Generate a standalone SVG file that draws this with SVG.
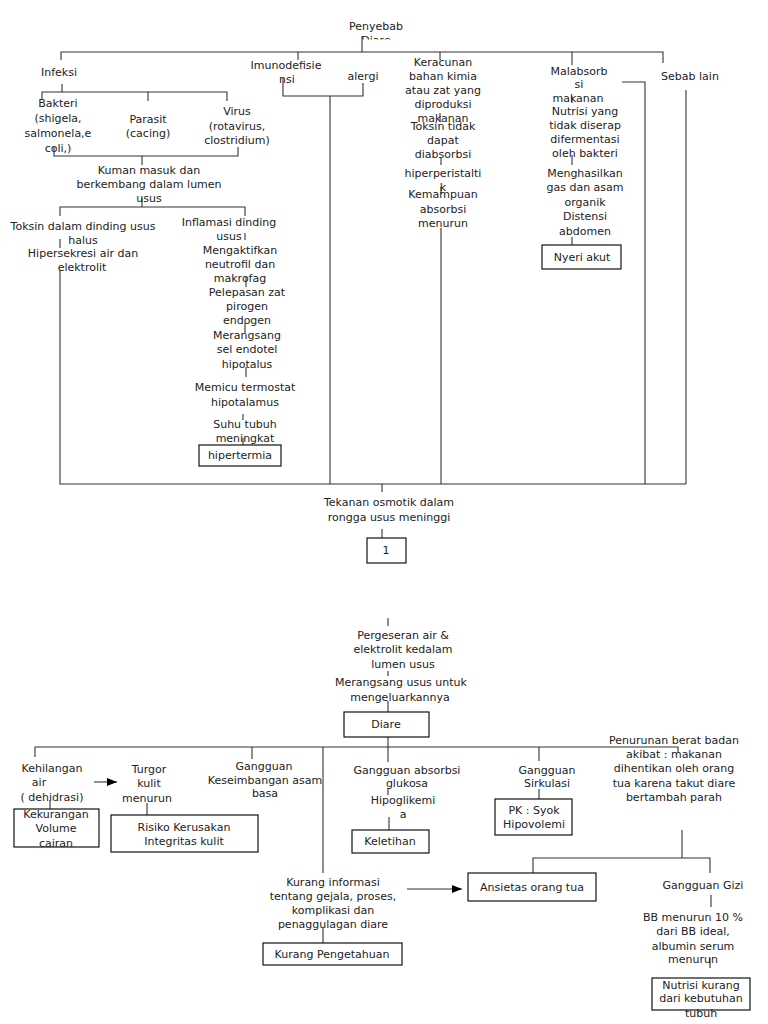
<svg xmlns="http://www.w3.org/2000/svg" width="768" height="1024" viewBox="0 0 768 1024">
<style>
text{font-family:"DejaVu Sans","Noto Sans",sans-serif;font-size:11px;fill:#222;text-anchor:middle}
.c path{fill:none;stroke:#333;stroke-width:1.1}
rect.b{fill:#fff;stroke:#111;stroke-width:1.2}
</style>
<defs>
<marker id="ah" markerWidth="10" markerHeight="8" refX="10" refY="4" orient="auto" markerUnits="userSpaceOnUse"><path d="M0,0 L10,4 L0,8 Z" fill="#000"/></marker>
<clipPath id="clipDiare"><rect x="300" y="0" width="150" height="39.5"/></clipPath>
</defs>
<rect width="768" height="1024" fill="#fff"/>
<g class="c" id="connectors">
<path d="M362,36 V52"/>
<path d="M61,60 V52 H663 V63"/>
<path d="M298,52 V60"/>
<path d="M440,52 V60"/>
<path d="M572,52 V65"/>
<path d="M62,84 V92"/>
<path d="M42,100 V92 H227 V101"/>
<path d="M148,92 V101"/>
<path d="M54,147 V156 H238 V147"/>
<path d="M142,156 V165"/>
<path d="M142,198 V207"/>
<path d="M60,216 V207 H245 V216"/>
<path d="M60,239 V248"/>
<path d="M60,270 V484 H686"/>
<path d="M245,233 V240"/>
<path d="M246,277 V287"/>
<path d="M245,323 V333"/>
<path d="M246,367 V377"/>
<path d="M243,414 V420"/>
<path d="M243,438 V445"/>
<path d="M283,78 V96 H363 V83"/>
<path d="M330,96 V484"/>
<path d="M440,113 V122"/>
<path d="M441,158 V165"/>
<path d="M441,187 V194"/>
<path d="M441,228 V484"/>
<path d="M572,96 V103"/>
<path d="M572,155 V165"/>
<path d="M572,237 V245"/>
<path d="M622,82 H645 V484"/>
<path d="M686,90 V484"/>
<path d="M382,484 V492"/>
<path d="M382,529 V538"/>
<path d="M388,618 V626"/>
<path d="M388,671 V676"/>
<path d="M388,701 V712"/>
<path d="M388,737 V762"/>
<path d="M388,788 V795"/>
<path d="M389,817 V830"/>
<path d="M35,757 V747 H678 V753"/>
<path d="M252,747 V759"/>
<path d="M323,747 V873"/>
<path d="M323,928 V943"/>
<path d="M539,747 V761"/>
<path d="M539,789 V799"/>
<path d="M50,800 V809"/>
<path d="M147,803 V815"/>
<path d="M94,782 H117" marker-end="url(#ah)"/>
<path d="M682,830 V858"/>
<path d="M533,873 V858 H710 V873"/>
<path d="M711,895 V907"/>
<path d="M710,958 V968"/>
<path d="M407,889 H462" marker-end="url(#ah)"/>
</g>
<g id="penyebab"><text x="376" y="30">Penyebab</text><text x="376" y="44" clip-path="url(#clipDiare)">Diare</text></g>
<g id="infeksi"><text x="59" y="76">Infeksi</text></g>
<g id="imuno"><text x="286" y="69">Imunodefisie</text><text x="287" y="83">nsi</text></g>
<g id="alergi"><text x="363" y="80">alergi</text></g>
<g id="keracunan"><text x="443" y="66">Keracunan</text><text x="443" y="80">bahan kimia</text><text x="443" y="94">atau zat yang</text><text x="443" y="108">diproduksi</text><text x="443" y="122">makanan</text></g>
<g id="toksin-tidak"><text x="443" y="130">Toksin tidak</text><text x="443" y="144">dapat</text><text x="443" y="158">diabsorbsi</text></g>
<g id="hiperperistaltik"><text x="443" y="177">hiperperistalti</text><text x="443" y="191">k</text></g>
<g id="kemampuan"><text x="443" y="198">Kemampuan</text><text x="443" y="213">absorbsi</text><text x="443" y="227">menurun</text></g>
<g id="malabsorbsi"><text x="579" y="75">Malabsorb</text><text x="579" y="88">si</text><text x="578" y="102">makanan</text></g>
<g id="nutrisi-tidak"><text x="585" y="115">Nutrisi yang</text><text x="585" y="129">tidak diserap</text><text x="585" y="143">difermentasi</text><text x="585" y="157">oleh bakteri</text></g>
<g id="menghasilkan"><text x="585" y="177">Menghasilkan</text><text x="585" y="191">gas dan asam</text><text x="585" y="206">organik</text><text x="585" y="220">Distensi</text><text x="585" y="235">abdomen</text></g>
<g id="nyeri"><rect class="b" x="542" y="245" width="79" height="24"/><text x="582" y="261">Nyeri akut</text></g>
<g id="sebab-lain"><text x="690" y="80">Sebab lain</text></g>
<g id="bakteri"><text x="58" y="107">Bakteri</text><text x="58" y="122">(shigela,</text><text x="58" y="137">salmonela,e</text><text x="58" y="152">coli,)</text></g>
<g id="parasit"><text x="148" y="123">Parasit</text><text x="148" y="137">(cacing)</text></g>
<g id="virus"><text x="237" y="115">Virus</text><text x="237" y="130">(rotavirus,</text><text x="237" y="144">clostridium)</text></g>
<g id="kuman"><text x="149" y="174">Kuman masuk dan</text><text x="149" y="188">berkembang dalam lumen</text><text x="149" y="202">usus</text></g>
<g id="toksin-dinding"><text x="83" y="230">Toksin dalam dinding usus</text><text x="83" y="244">halus</text></g>
<g id="hipersekresi"><text x="83" y="257">Hipersekresi air dan</text><text x="82" y="271">elektrolit</text></g>
<g id="inflamasi"><text x="229" y="226">Inflamasi dinding</text><text x="229" y="240">usus</text></g>
<g id="mengaktifkan"><text x="240" y="254">Mengaktifkan</text><text x="240" y="268">neutrofil dan</text><text x="240" y="282">makrofag</text></g>
<g id="pelepasan"><text x="247" y="296">Pelepasan zat</text><text x="247" y="310">pirogen</text><text x="247" y="324">endogen</text></g>
<g id="merangsang-sel"><text x="247" y="339">Merangsang</text><text x="247" y="353">sel endotel</text><text x="247" y="368">hipotalus</text></g>
<g id="memicu"><text x="245" y="391">Memicu termostat</text><text x="245" y="406">hipotalamus</text></g>
<g id="suhu"><text x="245" y="428">Suhu tubuh</text><text x="245" y="442">meningkat</text></g>
<g id="hipertermia"><rect class="b" x="199" y="445" width="82" height="21"/><text x="240" y="459">hipertermia</text></g>
<g id="tekanan"><text x="389" y="506">Tekanan osmotik dalam</text><text x="389" y="521">rongga usus meninggi</text></g>
<g id="box1"><rect class="b" x="367" y="538" width="39" height="25"/><text x="386" y="554">1</text></g>
<g id="pergeseran"><text x="403" y="639">Pergeseran air &amp;</text><text x="403" y="653">elektrolit kedalam</text><text x="403" y="668">lumen usus</text></g>
<g id="merangsang-usus"><text x="401" y="686">Merangsang usus untuk</text><text x="400" y="701">mengeluarkannya</text></g>
<g id="diare"><rect class="b" x="344" y="712" width="85" height="25"/><text x="386" y="728">Diare</text></g>
<g id="kehilangan"><text x="52" y="772">Kehilangan</text><text x="39" y="786">air</text><text x="52" y="801">( dehidrasi)</text></g>
<g id="turgor"><text x="149" y="773">Turgor</text><text x="149" y="787">kulit</text><text x="147" y="802">menurun</text></g>
<g id="keseimbangan"><text x="264" y="770">Gangguan</text><text x="265" y="784">Keseimbangan asam</text><text x="265" y="797">basa</text></g>
<g id="absorbsi-glukosa"><text x="407" y="774">Gangguan absorbsi</text><text x="407" y="787">glukosa</text></g>
<g id="hipoglikemia"><text x="403" y="804">Hipoglikemi</text><text x="403" y="818">a</text></g>
<g id="sirkulasi"><text x="547" y="774">Gangguan</text><text x="547" y="787">Sirkulasi</text></g>
<g id="penurunan"><text x="674" y="744">Penurunan berat badan</text><text x="674" y="758">akibat : makanan</text><text x="674" y="772">dihentikan oleh orang</text><text x="674" y="787">tua karena takut diare</text><text x="674" y="801">bertambah parah</text></g>
<g id="kekurangan-volume"><rect class="b" x="14" y="809" width="85" height="38"/><text x="56" y="818">Kekurangan</text><text x="56" y="832">Volume</text><text x="56" y="847">cairan</text></g>
<g id="risiko"><rect class="b" x="111" y="815" width="147" height="37"/><text x="184" y="831">Risiko Kerusakan</text><text x="184" y="845">Integritas kulit</text></g>
<g id="keletihan"><rect class="b" x="352" y="830" width="77" height="23"/><text x="390" y="845">Keletihan</text></g>
<g id="syok"><rect class="b" x="495" y="799" width="77" height="36"/><text x="534" y="814">PK : Syok</text><text x="534" y="828">Hipovolemi</text></g>
<g id="ansietas"><rect class="b" x="468" y="873" width="128" height="28"/><text x="532" y="891">Ansietas orang tua</text></g>
<g id="kurang-informasi"><text x="333" y="886">Kurang informasi</text><text x="333" y="900">tentang gejala, proses,</text><text x="333" y="914">komplikasi dan</text><text x="333" y="928">penaggulagan diare</text></g>
<g id="kurang-pengetahuan"><rect class="b" x="263" y="943" width="139" height="22"/><text x="332" y="958">Kurang Pengetahuan</text></g>
<g id="gizi"><text x="703" y="889">Gangguan Gizi</text></g>
<g id="bb"><text x="693" y="921">BB menurun 10 %</text><text x="693" y="935">dari BB ideal,</text><text x="693" y="950">albumin serum</text><text x="693" y="963">menurun</text></g>
<g id="nutrisi-kurang"><rect class="b" x="652" y="978" width="98" height="32"/><text x="701" y="989">Nutrisi kurang</text><text x="701" y="1002">dari kebutuhan</text><text x="701" y="1017">tubuh</text></g>
</svg>
